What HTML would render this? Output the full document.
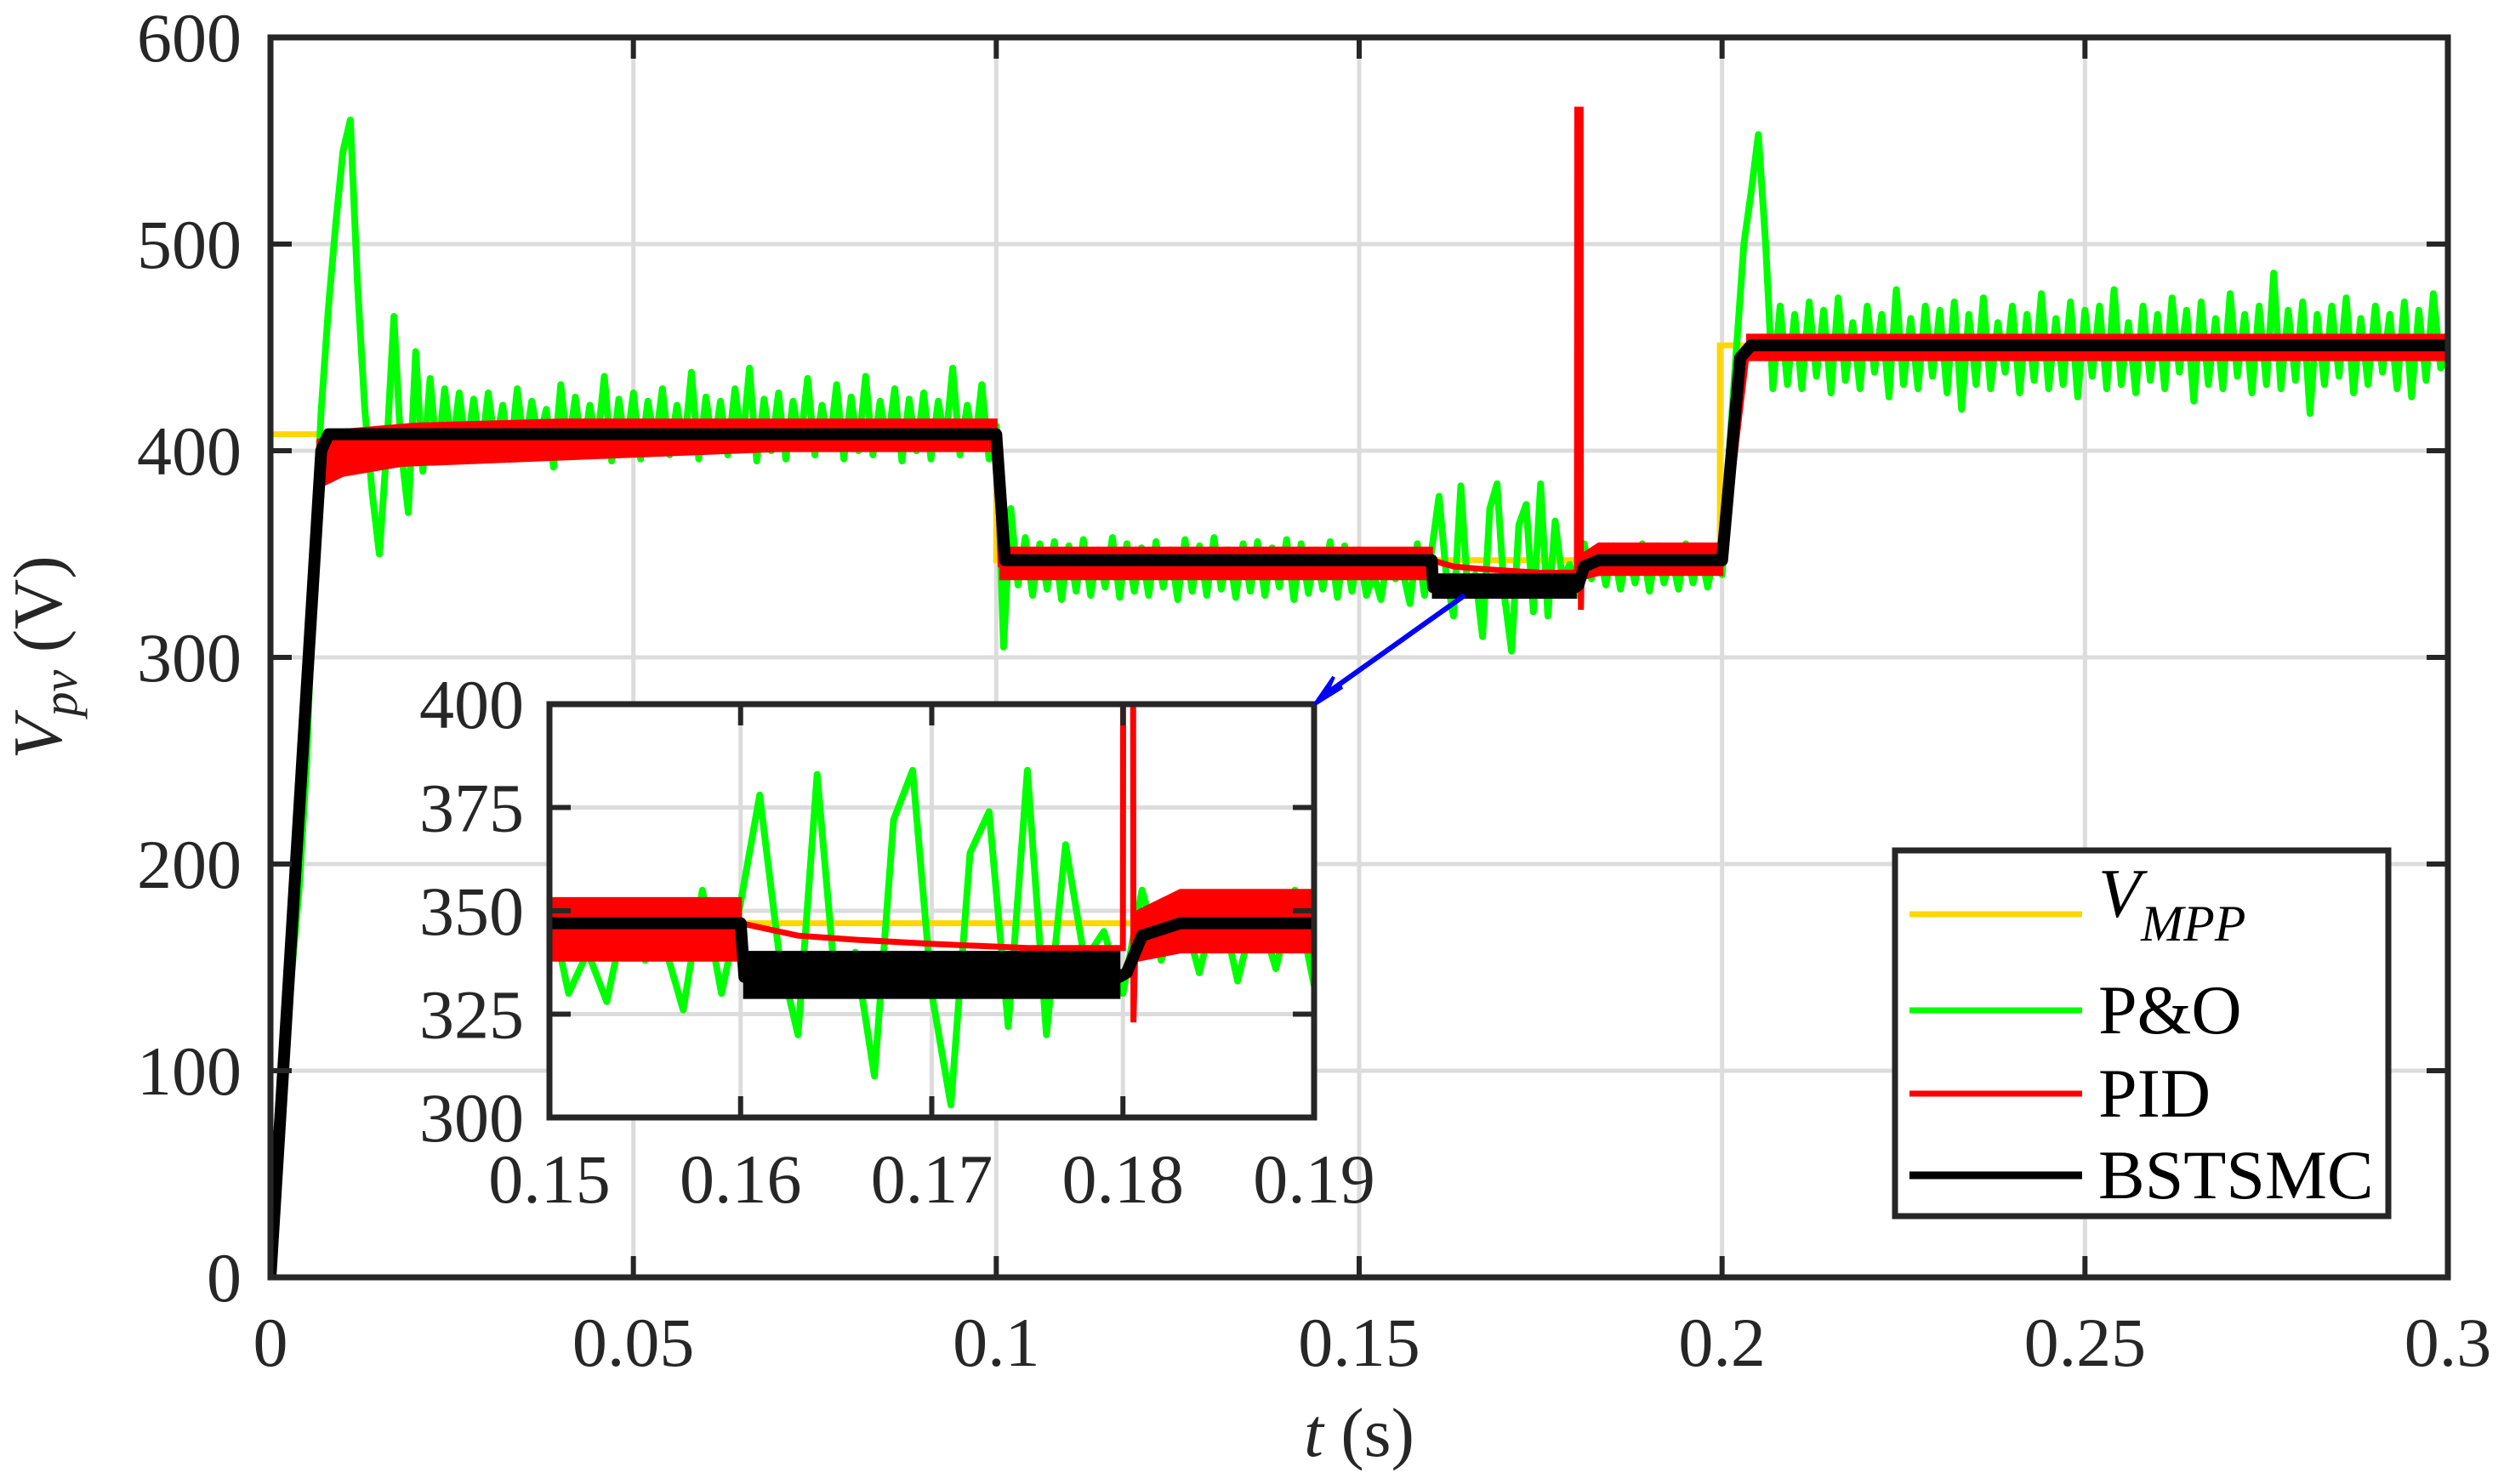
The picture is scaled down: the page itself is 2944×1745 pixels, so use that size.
<!DOCTYPE html>
<html><head><meta charset="utf-8"><title>Vpv response</title>
<style>
html,body{margin:0;padding:0;background:#fff;width:2944px;height:1745px;overflow:hidden;}
svg{display:block;}
text{font-family:"Liberation Serif","Times New Roman",serif;}
</style></head>
<body>
<svg id="chart" width="2944" height="1745" viewBox="0 0 2944 1745" xmlns="http://www.w3.org/2000/svg" font-family="Liberation Serif, serif">
<defs>
<clipPath id="mainClip"><rect x="318" y="44" width="2560" height="1458"/></clipPath>
<clipPath id="insetClip"><rect x="646" y="828" width="899" height="486"/></clipPath>
</defs>
<rect x="318" y="44" width="2560" height="1458" fill="#fff"/>
<g id="mainGrid"></g>
<g id="mainSeries" clip-path="url(#mainClip)"></g>
<g id="mainAxes"></g>
<text transform="translate(72,773) rotate(-90)" text-anchor="middle" font-size="82" fill="#262626"><tspan font-style="italic">V</tspan><tspan font-style="italic" font-size="58" dy="18">pv</tspan><tspan dy="-18"> (V)</tspan></text>
<text x="1598" y="1712" text-anchor="middle" font-size="82" fill="#262626"><tspan font-style="italic">t</tspan> (s)</text>

<rect x="646" y="828" width="899" height="486" fill="#fff"/>
<g id="insetGrid"></g>
<g id="insetSeries" clip-path="url(#insetClip)"></g>
<g id="insetAxes"></g>

<g>
<line x1="1722" y1="700" x2="1556" y2="818" stroke="#0000ff" stroke-width="6"/>
<path d="M1546,828 L1568,796 L1561,812 L1578,808 Z" fill="#0000ff" stroke="#0000ff" stroke-width="4"/>
</g>

<g>
<rect x="2228" y="1000" width="580" height="430" fill="#fff" stroke="#262626" stroke-width="7"/>
<g>
<line x1="2245" y1="1075" x2="2448" y2="1075" stroke="#ffd700" stroke-width="7"/>
<text x="2467" y="1078" font-size="82" fill="#000"><tspan font-style="italic">V</tspan><tspan font-style="italic" font-size="60" dy="28">MPP</tspan></text>
</g>
<g>
<line x1="2245" y1="1188" x2="2448" y2="1188" stroke="#00ff00" stroke-width="7"/>
<text x="2467" y="1215" font-size="82" fill="#000">P&amp;O</text>
</g>
<g>
<line x1="2245" y1="1286" x2="2448" y2="1286" stroke="#ff0000" stroke-width="7"/>
<text x="2467" y="1313" font-size="82" fill="#000">PID</text>
</g>
<g>
<line x1="2245" y1="1382" x2="2448" y2="1382" stroke="#000" stroke-width="9"/>
<text x="2467" y="1409" font-size="82" fill="#000">BSTSMC</text>
</g>
</g>
</svg>
<script>
// ---- data ----
const xTicksMain = [0, 0.05, 0.1, 0.15, 0.2, 0.25, 0.3];
const xTickLabelsMain = ["0", "0.05", "0.1", "0.15", "0.2", "0.25", "0.3"];
const yTicksMain = [0, 100, 200, 300, 400, 500, 600];
const xTicksInset = [0.15, 0.16, 0.17, 0.18, 0.19];
const xTickLabelsInset = ["0.15", "0.16", "0.17", "0.18", "0.19"];
const yTicksInset = [300, 325, 350, 375, 400];

const vmppT = [0, 0.1, 0.1, 0.1997, 0.1997, 0.3];
const vmppV = [408, 408, 347, 347, 451, 451];

// P&O sampled every 1 ms from t=0 to 0.3 s
const poStep = 0.001;
const poV = [
0,60,110,150,190,250,350,420,470,510,
545,560,480,420,380,350,400,465,400,370,
448,390,435,395,430,400,428,400,425,398,
428,402,422,396,430,400,424,405,420,392,
432,400,426,398,422,402,436,395,425,400,
428,396,424,403,430,398,422,401,438,396,
426,400,424,398,430,402,440,395,425,400,
428,396,424,403,435,398,422,401,432,396,
426,400,436,398,424,402,430,395,425,400,
428,396,424,403,440,398,422,401,432,396,
412,305,372,335,358,330,355,333,356,328,
354,332,357,330,352,334,358,329,355,332,
353,330,356,334,352,328,357,332,354,330,
358,333,352,329,355,332,356,330,353,334,
357,328,355,331,352,333,356,329,354,332,
352,330,340,328,350,338,342,326,355,330,
352,378,340,320,383,330,340,310,372,384,
330,303,364,374,322,384,320,366,338,345,
330,355,338,352,335,354,333,352,336,355,
332,354,336,350,333,355,336,352,334,350,
340,400,450,500,525,553,500,430,470,432,
466,430,472,436,468,428,474,434,462,430,
470,438,466,426,478,432,464,430,470,436,
468,428,472,420,466,432,474,430,462,438,
470,428,466,434,476,430,464,432,472,426,
468,436,470,430,478,432,462,428,470,434,
466,430,474,438,468,424,472,432,464,430,
476,436,466,428,470,432,486,430,468,434,
472,418,466,432,470,436,474,428,464,432,
470,438,466,430,472,426,468,434,476,440,
446
];

// PID: oscillation envelope bands and a connecting line
const pidBand1T = [0.0065, 0.01, 0.02, 0.04, 0.07, 0.1];
const pidBand1Lo = [382, 388, 394, 398, 400, 400];
const pidBand1Hi = [405, 410, 413, 415, 415, 415];
const pidBand2T = [0.1006, 0.16];
const pidBand2Lo = [338, 338];
const pidBand2Hi = [353, 353];
const pidBand3T = [0.1808, 0.183, 0.2];
const pidBand3Lo = [338, 340, 340];
const pidBand3Hi = [350, 355, 355];
const pidBand4T = [0.2035, 0.3];
const pidBand4Lo = [444, 444];
const pidBand4Hi = [456, 456];
const pidLineT = [0, 0.0065, 0.1, 0.1006, 0.16, 0.163, 0.166, 0.17, 0.175, 0.18, 0.18005, 0.1805, 0.18055, 0.1807, 0.181, 0.2, 0.2035, 0.3];
const pidLineV = [0, 392, 405, 345, 347, 344, 343, 342, 341, 341, 565, 565, 323, 350, 345, 347, 450, 450];

// BSTSMC
const bstT = [0, 0.007, 0.008, 0.1, 0.1012, 0.16, 0.1602, 0.1798, 0.1802, 0.181, 0.183, 0.2, 0.2025, 0.204, 0.3];
const bstV = [0, 400, 408, 408, 347, 347, 334, 334, 335, 344, 347, 347, 445, 451, 451];
const bstBandT = [0.1602, 0.1798];
const bstBandLo = [329, 329];
const bstBandHi = [340, 340];

// ---- scales ----
const M = {x0: 318, x1: 2878, y0: 1502, y1: 44, tMin: 0, tMax: 0.3, vMin: 0, vMax: 600};
const I = {x0: 646, x1: 1545, y0: 1314, y1: 828, tMin: 0.15, tMax: 0.19, vMin: 300, vMax: 400};
function sx(A, t) { return A.x0 + (t - A.tMin) / (A.tMax - A.tMin) * (A.x1 - A.x0); }
function sy(A, v) { return A.y0 - (v - A.vMin) / (A.vMax - A.vMin) * (A.y0 - A.y1); }
const NS = "http://www.w3.org/2000/svg";
function mk(tag, attrs, parent) {
  const e = document.createElementNS(NS, tag);
  for (const k in attrs) e.setAttribute(k, attrs[k]);
  parent.appendChild(e);
  return e;
}
function pts(A, ts, vs) { return ts.map((t, i) => sx(A, t).toFixed(1) + "," + sy(A, vs[i]).toFixed(1)).join(" "); }
function bandPts(A, ts, lo, hi) {
  const a = ts.map((t, i) => sx(A, t).toFixed(1) + "," + sy(A, hi[i]).toFixed(1));
  const b = ts.map((t, i) => sx(A, t).toFixed(1) + "," + sy(A, lo[i]).toFixed(1)).reverse();
  return a.concat(b).join(" ");
}
const poT = poV.map((v, i) => i * poStep);

function drawGrid(A, g, xt, yt) {
  xt.forEach(t => {
    const l = mk("line", {x1: sx(A, t), x2: sx(A, t), y1: A.y0, y2: A.y1, stroke: "#dcdcdc", "stroke-width": 5}, g);
    
    
  });
  yt.forEach(v => {
    const l = mk("line", {x1: A.x0, x2: A.x1, y1: sy(A, v), y2: sy(A, v), stroke: "#dcdcdc", "stroke-width": 5}, g);
    
    
  });
}
function drawSeries(A, g) {
  const y = mk("polyline", {points: pts(A, vmppT, vmppV), fill: "none", stroke: "#ffd700", "stroke-width": 7}, g);
  
  
  const gr = mk("polyline", {points: pts(A, poT, poV), fill: "none", stroke: "#00ff00", "stroke-width": 8, "stroke-linejoin": "round"}, g);
  
  
  [[pidBand1T, pidBand1Lo, pidBand1Hi], [pidBand2T, pidBand2Lo, pidBand2Hi], [pidBand3T, pidBand3Lo, pidBand3Hi], [pidBand4T, pidBand4Lo, pidBand4Hi]].forEach(b => {
    const p = mk("polygon", {points: bandPts(A, b[0], b[1], b[2]), fill: "#ff0000", stroke: "#ff0000", "stroke-width": 3}, g);
    
    
  });
  const r = mk("polyline", {points: pts(A, pidLineT, pidLineV), fill: "none", stroke: "#ff0000", "stroke-width": 7}, g);
  
  
  const bb = mk("polygon", {points: bandPts(A, bstBandT, bstBandLo, bstBandHi), fill: "#000", stroke: "#000", "stroke-width": 3}, g);
  
  
  const k = mk("polyline", {points: pts(A, bstT, bstV), fill: "none", stroke: "#000", "stroke-width": 14, "stroke-linejoin": "round"}, g);
  
  
}
function drawAxes(A, g, xt, xl, yt, yl, fs, xOff, yOff) {
  const b = mk("rect", {x: A.x0, y: A.y1, width: A.x1 - A.x0, height: A.y0 - A.y1, fill: "none", stroke: "#262626", "stroke-width": 7}, g);
  
  
  xt.forEach((t, i) => {
    const x = sx(A, t);
    mk("line", {x1: x, x2: x, y1: A.y0, y2: A.y0 - 25, stroke: "#262626", "stroke-width": 6}, g);
    mk("line", {x1: x, x2: x, y1: A.y1, y2: A.y1 + 25, stroke: "#262626", "stroke-width": 6}, g);
    const tx = mk("text", {x: x, y: A.y0 + xOff, "text-anchor": "middle", "font-size": fs, fill: "#262626"}, g);
    tx.textContent = xl[i];
    
    
  });
  yt.forEach((v, i) => {
    const y = sy(A, v);
    mk("line", {x1: A.x0, x2: A.x0 + 25, y1: y, y2: y, stroke: "#262626", "stroke-width": 6}, g);
    mk("line", {x1: A.x1, x2: A.x1 - 25, y1: y, y2: y, stroke: "#262626", "stroke-width": 6}, g);
    const ty = mk("text", {x: A.x0 - yOff, y: y + 28, "text-anchor": "end", "font-size": fs, fill: "#262626"}, g);
    ty.textContent = yl[i];
    
    
  });
}
drawGrid(M, document.getElementById("mainGrid"), xTicksMain, yTicksMain);
drawSeries(M, document.getElementById("mainSeries"));
drawAxes(M, document.getElementById("mainAxes"), xTicksMain, xTickLabelsMain, yTicksMain, yTicksMain.map(String), 82, 104, 34);
drawGrid(I, document.getElementById("insetGrid"), xTicksInset, yTicksInset);
drawSeries(I, document.getElementById("insetSeries"));
drawAxes(I, document.getElementById("insetAxes"), xTicksInset, xTickLabelsInset, yTicksInset, yTicksInset.map(String), 82, 100, 30);
</script>
</body></html>
